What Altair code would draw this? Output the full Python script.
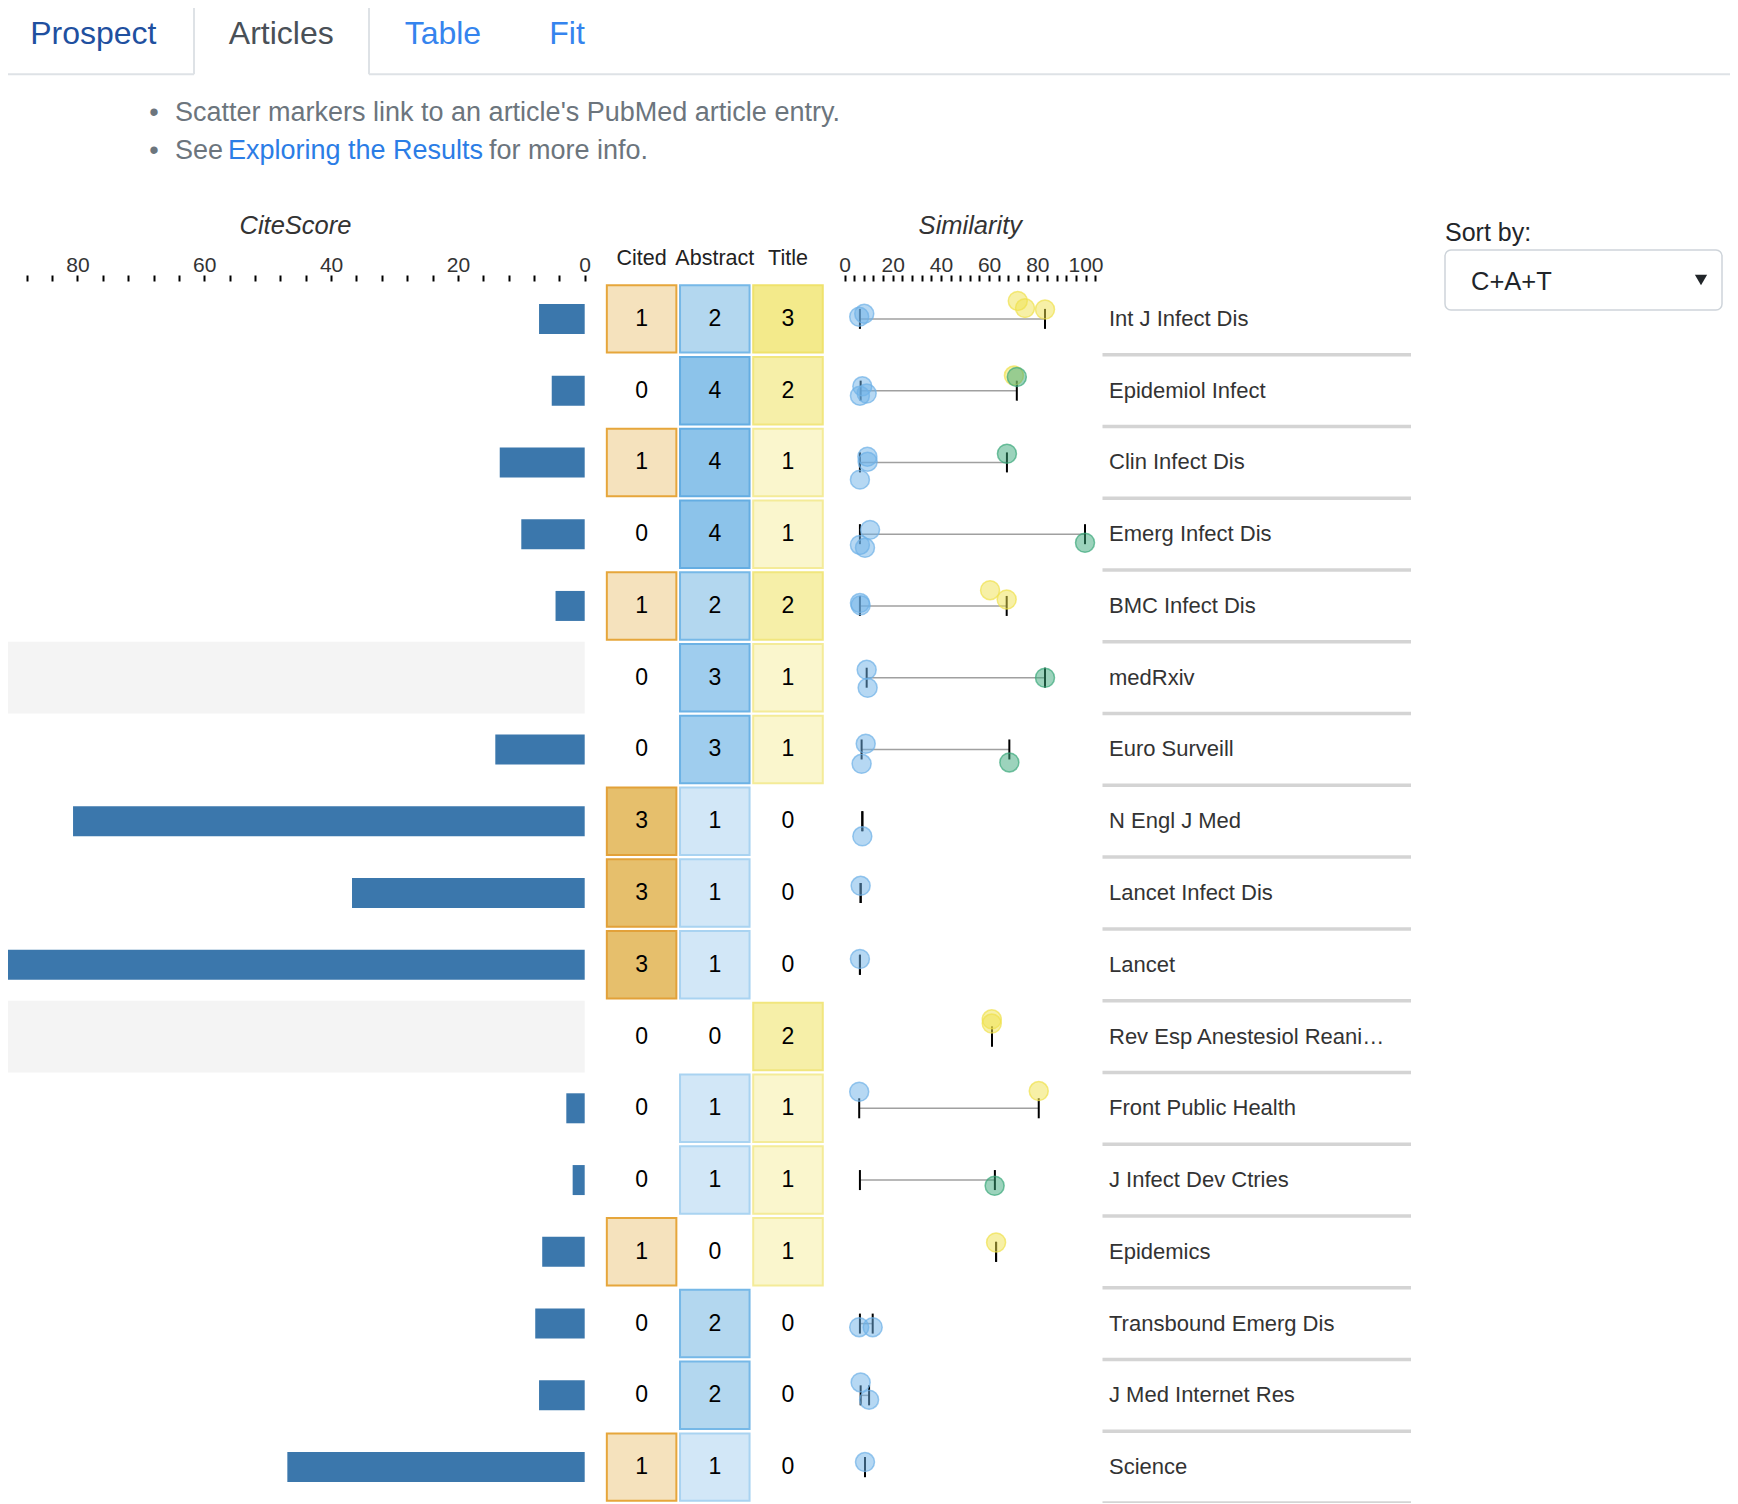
import altair as alt
import pandas as pd

FONT = "Liberation Sans"

# ---------------- data ----------------
journals = ["Int J Infect Dis", "Epidemiol Infect", "Clin Infect Dis", "Emerg Infect Dis",
            "BMC Infect Dis", "medRxiv", "Euro Surveill", "N Engl J Med", "Lancet Infect Dis",
            "Lancet", "Rev Esp Anestesiol Reani…", "Front Public Health", "J Infect Dev Ctries",
            "Epidemics", "Transbound Emerg Dis", "J Med Internet Res", "Science"]
citescore = [7.2, 5.2, 13.4, 10.0, 4.6, None, 14.1, 80.7, 36.7, 91.4, None, 2.9, 1.9, 6.7, 7.8, 7.2, 46.9]
cited_counts = [1, 0, 1, 0, 1, 0, 0, 3, 3, 3, 0, 0, 0, 1, 0, 0, 1]
abstract_counts = [2, 4, 4, 4, 2, 3, 3, 1, 1, 1, 0, 1, 1, 0, 2, 2, 1]
title_counts = [3, 2, 1, 1, 2, 1, 1, 0, 0, 0, 2, 1, 1, 1, 0, 0, 0]
sim_lo = [6.4, 6.7, 6.4, 6.4, 6.4, 9.2, 7.1, 7.4, 6.7, 6.4, 61.2, 6.1, 6.4, 62.9, 6.4, 6.7, 8.5]
sim_hi = [83.2, 71.5, 67.4, 99.8, 67.3, 83.2, 68.4, 7.4, 6.7, 6.4, 61.2, 80.6, 62.4, 62.9, 11.7, 10.2, 8.5]

pt_row = [0, 0, 0, 0, 0, 1, 1, 1, 1, 1, 2, 2, 2, 2, 3, 3, 3, 3, 4, 4, 4, 4,
          5, 5, 5, 6, 6, 6, 7, 8, 9, 10, 10, 11, 11, 12, 13, 14, 14, 15, 15, 16]
pt_group = ["abstract", "abstract", "title", "title", "title",
            "abstract", "abstract", "abstract", "title", "both",
            "abstract", "abstract", "abstract", "both",
            "abstract", "abstract", "abstract", "both",
            "abstract", "abstract", "title", "title",
            "abstract", "abstract", "both",
            "abstract", "abstract", "both",
            "abstract", "abstract", "abstract",
            "title", "title",
            "abstract", "title",
            "both", "title",
            "abstract", "abstract",
            "abstract", "abstract",
            "abstract"]
pt_sim = [6.1, 8.2, 71.9, 74.9, 83.2,
          7.4, 6.4, 9.2, 70.3, 71.5,
          9.5, 9.6, 6.4, 67.4,
          10.6, 6.4, 8.5, 99.8,
          6.4, 6.7, 60.4, 67.3,
          9.2, 9.6, 83.2,
          8.8, 7.1, 68.4,
          7.4, 6.7, 6.4,
          61.1, 61.1,
          6.1, 80.6,
          62.3, 62.9,
          6.1, 11.7,
          6.7, 10.2,
          8.5]
pt_jitter = [-0.03, -0.07, -0.25, -0.15, -0.13,
             -0.06, 0.07, 0.04, -0.21, -0.19,
             -0.08, -0.01, 0.24, -0.12,
             -0.06, 0.15, 0.19, 0.12,
             -0.04, -0.01, -0.22, -0.09,
             -0.11, 0.14, 0.00,
             -0.08, 0.20, 0.18,
             0.21, -0.10, -0.08,
             -0.24, -0.18,
             -0.23, -0.24,
             0.08, -0.13,
             0.05, 0.05,
             -0.18, 0.06,
             -0.07]

heat_columns = ["Cited", "Abstract", "Title"]
point_groups = ["abstract", "title", "both"]
citescore_ticks = [0, 4, 8, 12, 16, 20, 24, 28, 32, 36, 40, 44, 48, 52, 56, 60, 64, 68, 72, 76, 80, 84, 88]
similarity_ticks = [0, 4, 8, 12, 16, 20, 24, 28, 32, 36, 40, 44, 48, 52, 56, 60, 64, 68, 72, 76, 80, 84,
                    88, 92, 96, 100, 104]

tab_labels = ["Prospect", "Articles", "Table", "Fit"]
note_line1 = "Scatter markers link to an article's PubMed article entry."
note_line2 = ["See ", "Exploring the Results", "for more info."]
sort_label = "Sort by:"
sort_value = "C+A+T"

# ---------------- tables ----------------
df_j = pd.DataFrame({"journal": journals, "citescore": citescore, "lo": sim_lo, "hi": sim_hi})
heat_rows = []
for col, arr in zip(heat_columns, [cited_counts, abstract_counts, title_counts]):
    for j, v in zip(journals, arr):
        heat_rows.append({"journal": j, "col": col, "v": v})
df_heat = pd.DataFrame(heat_rows)
df_pts = pd.DataFrame({"row": pt_row, "group": pt_group, "sim": pt_sim, "jit": pt_jitter})
one = pd.DataFrame({"k": [0]})

# ---------------- geometry ----------------
W, H = 1722, 1220
PAD_TOP = 275

row_scale = alt.Scale(domain=journals, range=[0, H], paddingInner=0, paddingOuter=0)
heat_y = alt.Scale(domain=journals, range=[0, H], paddingInner=0.06, paddingOuter=0.03)
cs_scale = alt.Scale(domain=[0, 91.4], range=[576.7, -2.8], nice=False)
heat_x = alt.Scale(domain=heat_columns, range=[597, 816.6], paddingInner=0.05, paddingOuter=0.025)
sim_scale = alt.Scale(domain=[0, 104], range=[836.5, 836.5 + 104 * 2.41], nice=False)
pt_y = alt.Scale(domain=[-0.5, 16.5], range=[0, H], nice=False, zero=False)


def top_axis(title, values):
    return alt.Axis(orient="top", values=values,
                    labelExpr="datum.value % 20 === 0 ? datum.label : ''",
                    domain=False, grid=False, ticks=True, tickSize=6, tickWidth=2, tickColor="black",
                    labelPadding=0, labelFontSize=21, labelColor="#333", labelFont=FONT,
                    labelOverlap=False, labelFlush=False,
                    title=title, titleFont=FONT, titleFontSize=25.5, titleFontStyle="italic",
                    titleFontWeight="normal", titleColor="#333", titleY=-48,
                    titleBaseline="alphabetic", offset=2)


def text_at(s, x, y, size, color, align="left", style="normal"):
    return alt.Chart(one).mark_text(text=s, align=align, baseline="alphabetic", fontSize=size,
                                    color=color, font=FONT, fontStyle=style).encode(
        x=alt.value(x), y=alt.value(y))


def hline(x1, x2, y, color, w):
    return alt.Chart(one).mark_rule(color=color, strokeWidth=w).encode(
        x=alt.value(x1), x2=alt.value(x2), y=alt.value(y))


def vline(x, y1, y2, color, w):
    return alt.Chart(one).mark_rule(color=color, strokeWidth=w).encode(
        x=alt.value(x), y=alt.value(y1), y2=alt.value(y2))


layers = []

# ---------------- header: tabs, notes, sort control ----------------
layers += [
    hline(0, 186, -208.7, "#dee2e6", 2),
    hline(361, W, -208.7, "#dee2e6", 2),
    vline(186, -280, -208.7, "#dee2e6", 2),
    vline(361, -280, -208.7, "#dee2e6", 2),
    text_at(tab_labels[0], 85.3, -238.7, 32, "#1f509f", align="center"),
    text_at(tab_labels[1], 273.3, -238.7, 32, "#495057", align="center"),
    text_at(tab_labels[2], 434.9, -238.7, 32, "#3584ee", align="center"),
    text_at(tab_labels[3], 559.0, -238.7, 32, "#3584ee", align="center"),
    text_at("•", 146, -162, 27, "#6c757d", align="center"),
    text_at(note_line1, 167, -162, 27, "#6c757d"),
    text_at("•", 146, -124, 27, "#6c757d", align="center"),
    text_at(note_line2[0], 167, -124, 27, "#6c757d"),
    text_at(note_line2[1], 219.9, -124, 27, "#2b7de6"),
    text_at(note_line2[2], 481, -124, 27, "#6c757d"),
    text_at(sort_label, 1437, -42.5, 25, "#212529"),
    alt.Chart(one).mark_rect(fill="white", stroke="#ced4da", strokeWidth=1.5, cornerRadius=6).encode(
        x=alt.value(1437), x2=alt.value(1714), y=alt.value(-33), y2=alt.value(27)),
    text_at(sort_value, 1463, 6.5, 25.5, "#212529"),
    alt.Chart(one).mark_point(shape="triangle-down", filled=True, size=150, color="#212529",
                              opacity=1).encode(x=alt.value(1693), y=alt.value(-3)),
]

# ---------------- CiteScore bars ----------------
na_band = alt.Chart(df_j).transform_filter("!isValid(datum.citescore)").mark_rect(color="#f4f4f4").encode(
    x=alt.XDatum(91.4, type="quantitative", scale=cs_scale, axis=None),
    x2=alt.X2Datum(0),
    y=alt.Y("journal:N", scale=row_scale, axis=None, sort=None),
)
bars = alt.Chart(df_j).transform_filter("isValid(datum.citescore)").mark_bar(
    height=30, color="#3b77ac").encode(
    x=alt.X("citescore:Q", scale=cs_scale, axis=top_axis("CiteScore", citescore_ticks)),
    y=alt.Y("journal:N", scale=row_scale, axis=None, sort=None),
)
layers += [na_band, bars]

# ---------------- Cited / Abstract / Title counts ----------------
keys, fills, strokes = [], [], []
fill_sets = {"Cited": ["#f5e2bd", "#eed195", "#e6bf6c", "#e0b050"],
             "Abstract": ["#d2e7f7", "#b3d7ef", "#9fcdee", "#8cc3ea"],
             "Title": ["#faf6cd", "#f6efa8", "#f3ea8b", "#f0e470"]}
stroke_sets = {"Cited": ["#e6a63b", "#e5a43a", "#e2a139", "#e09f38"],
               "Abstract": ["#a9d3f1", "#76b8e7", "#6cb2e5", "#64ade2"],
               "Title": ["#f4eb98", "#f1e67e", "#efe26c", "#eee060"]}
for c in heat_columns:
    for i in range(4):
        keys.append(f"{c}{i + 1}")
        fills.append(fill_sets[c][i])
        strokes.append(stroke_sets[c][i])

heat_axis = alt.Axis(orient="top", domain=False, ticks=False, tickSize=0, labelPadding=13.5,
                     labelFontSize=21.5, labelColor="#222", labelFont=FONT, labelAngle=0,
                     title=None, grid=False)
heat_rect = alt.Chart(df_heat).transform_filter("datum.v > 0").transform_calculate(
    key="datum.col + datum.v").mark_rect(strokeWidth=2).encode(
    x=alt.X("col:N", scale=heat_x, axis=heat_axis, sort=None),
    y=alt.Y("journal:N", scale=heat_y, axis=None, sort=None),
    fill=alt.Fill("key:N", scale=alt.Scale(domain=keys, range=fills), legend=None),
    stroke=alt.Stroke("key:N", scale=alt.Scale(domain=keys, range=strokes), legend=None),
)
heat_text = alt.Chart(df_heat).mark_text(fontSize=23, color="black", font=FONT).encode(
    x=alt.X("col:N", scale=heat_x, axis=None, sort=None),
    y=alt.Y("journal:N", scale=heat_y, axis=None, sort=None),
    text=alt.Text("v:Q"),
)
layers += [heat_rect, heat_text]

# ---------------- Similarity ----------------
rng = alt.Chart(df_j).mark_rule(color="#a0a0a0", strokeWidth=1.5).encode(
    x=alt.X("lo:Q", scale=sim_scale, axis=top_axis("Similarity", similarity_ticks)),
    x2="hi:Q",
    y=alt.Y("journal:N", scale=row_scale, axis=None, sort=None, bandPosition=0.5),
)
ticks = alt.Chart(df_j).transform_fold(["lo", "hi"], as_=["end", "s"]).mark_tick(
    color="black", thickness=2, size=20, opacity=1).encode(
    x=alt.X("s:Q", scale=sim_scale, axis=None),
    y=alt.Y("journal:N", scale=row_scale, axis=None, sort=None),
)
pts = alt.Chart(df_pts).transform_calculate(ypos="datum.row + datum.jit").mark_circle(
    size=360, opacity=1, fillOpacity=0.5, strokeOpacity=0.7, strokeWidth=1.5).encode(
    x=alt.X("sim:Q", scale=sim_scale, axis=None),
    y=alt.Y("ypos:Q", scale=pt_y, axis=None),
    color=alt.Color("group:N", scale=alt.Scale(domain=point_groups,
                                               range=["#6db1e7", "#efe14d", "#3aa87a"]), legend=None),
    stroke=alt.Stroke("group:N", scale=alt.Scale(domain=point_groups,
                                                 range=["#6db1e7", "#efe14d", "#3aa87a"]), legend=None),
)
layers += [rng, ticks, pts]

# ---------------- journal labels ----------------
seps = alt.Chart(df_j).mark_rule(color="#d4d4d4", strokeWidth=3.5).encode(
    y=alt.Y("journal:N", scale=row_scale, axis=None, sort=None, bandPosition=1),
    x=alt.value(1094.5), x2=alt.value(1403),
)
labels = alt.Chart(df_j).mark_text(align="left", baseline="middle", fontSize=22, color="#333",
                                   font=FONT).encode(
    x=alt.value(1101),
    y=alt.Y("journal:N", scale=row_scale, axis=None, sort=None),
    text="journal:N",
)
layers += [seps, labels]

chart = alt.layer(*layers).resolve_scale(
    x="independent", y="independent", fill="independent", stroke="independent", color="independent"
).properties(
    width=W, height=H,
    padding={"left": 0, "top": PAD_TOP, "right": 0, "bottom": 0},
    autosize=alt.AutoSizeParams(type="none"),
).configure(font=FONT).configure_view(strokeWidth=0)

chart.save("out.html", embed_options={"renderer": "svg", "actions": False})
